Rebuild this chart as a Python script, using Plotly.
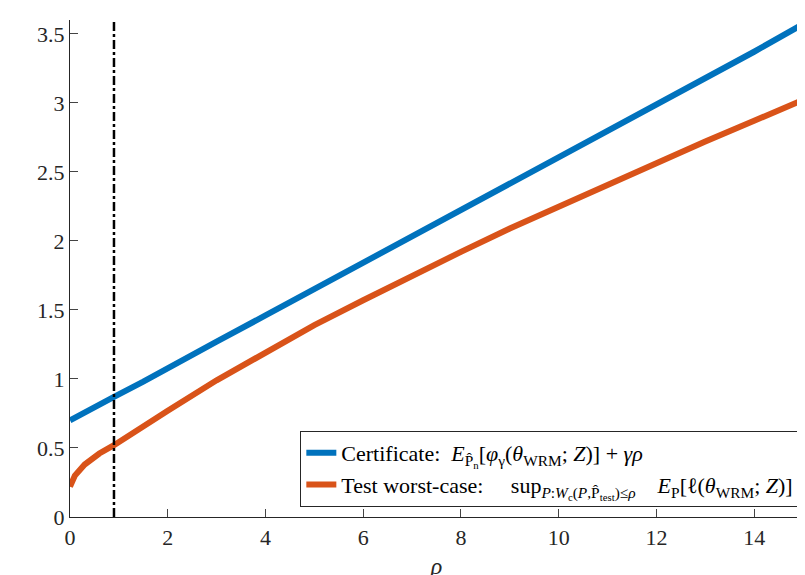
import plotly.graph_objects as go

rho = [0, 0.1, 0.3, 0.6, 0.9, 1.5, 2, 3, 4, 5, 6, 7, 8, 9, 10, 11, 12, 13, 14, 15]
certificate = [0.70, 0.72, 0.76, 0.81, 0.87, 0.98, 1.08, 1.27, 1.46, 1.65, 1.84, 2.03, 2.22, 2.41, 2.60, 2.80, 2.99, 3.18, 3.37, 3.57]
test_worst = [0.22, 0.30, 0.38, 0.46, 0.52, 0.66, 0.77, 0.99, 1.19, 1.39, 1.57, 1.75, 1.92, 2.09, 2.25, 2.41, 2.57, 2.72, 2.87, 3.02]
vline_x = 0.9
xticks = [0, 2, 4, 6, 8, 10, 12, 14]
yticks = [0, 0.5, 1, 1.5, 2, 2.5, 3, 3.5]

font = "Liberation Serif, DejaVu Serif, serif"
fig = go.Figure()
fig.add_trace(go.Scatter(x=rho, y=certificate, mode="lines", line=dict(color="#0072BD", width=6),
    name="Certificate:  <i>E</i><sub>P̂<sub>n</sub></sub>[<i>φ</i><sub>γ</sub>(<i>θ</i><sub>WRM</sub>; <i>Z</i>)] + <i>γρ</i>"))
fig.add_trace(go.Scatter(x=rho, y=test_worst, mode="lines", line=dict(color="#D95319", width=6),
    name="Test worst-case:     sup<sub><i>P</i>:<i>W</i><sub>c</sub>(<i>P</i>,P̂<sub>test</sub>)≤<i>ρ</i></sub>    <i>E</i><sub>P</sub>[ℓ(<i>θ</i><sub>WRM</sub>; <i>Z</i>)]"))
fig.add_trace(go.Scatter(x=[vline_x, vline_x], y=[0, 3.6], mode="lines", line=dict(color="black", width=2.5, dash="dashdot"), showlegend=False))

fig.update_layout(
    width=805, height=575, plot_bgcolor="white", paper_bgcolor="white",
    margin=dict(l=62, r=10, t=12, b=66),
    font=dict(family=font, size=22, color="#262626"),
    xaxis=dict(range=[0, 15], tickvals=xticks, ticks="inside", ticklen=8, showgrid=False, zeroline=False,
               showline=True, linecolor="#262626", linewidth=1.2,
               tickfont=dict(family=font, size=22),
               title=dict(text="<i>ρ</i>", font=dict(family=font, size=24), standoff=8)),
    yaxis=dict(range=[0, 3.6], tickvals=yticks, ticks="inside", ticklen=8, showgrid=False, zeroline=False,
               showline=True, linecolor="#262626", linewidth=1.2, tickfont=dict(family=font, size=22)),
    legend=dict(x=0.995, y=0.02, xanchor="right", yanchor="bottom", bgcolor="white", bordercolor="#262626",
                borderwidth=1, font=dict(family=font, size=22, color="black"), itemwidth=30, tracegroupgap=8),
)
fig.write_html("out.html")
